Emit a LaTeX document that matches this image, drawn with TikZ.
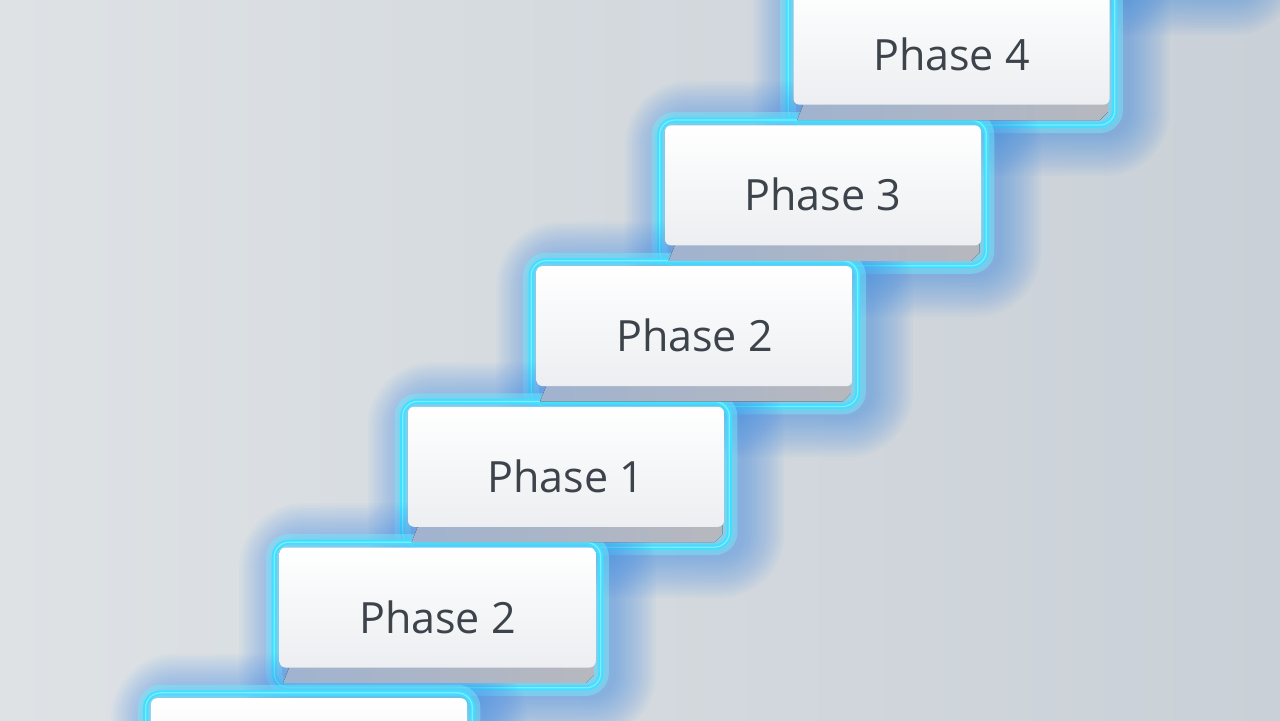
\documentclass[tikz,border=0pt]{standalone}
\usepackage{fontspec}
\newfontfamily\phasefont{Open Sans}
\usepackage{tikz}
\usetikzlibrary{positioning,
                calc,
                backgrounds}
\definecolor{bglight}{HTML}{DEE2E5}
\definecolor{bgdark}{HTML}{C9D0D7}
\definecolor{hazeblue}{HTML}{3C8CF0}
\definecolor{glowcyan}{HTML}{6FEFFF}
\definecolor{corecyan}{HTML}{3FE0FF}
\definecolor{facebot}{HTML}{ECEEF1}
\definecolor{bevelleft}{HTML}{A0B3CF}
\definecolor{bevelright}{HTML}{B7B8BE}
\definecolor{phasetext}{HTML}{3D434A}
\tikzset{stairface/.style = {rectangle,
                     rounded corners=0.12cm,
                     minimum width=6.32cm,
                     minimum height=2.4cm,
                     top color=white,
                     bottom color=facebot,
                     text=phasetext,
                     font=\phasefont\fontsize{24.5}{29}\selectfont,
                     text height=1.02cm,
                     text depth=0pt
                    },
         stairnext/.style = {
                     below=0.4cm of #1,
                     xshift=-2.57cm
         },
         glowline/.style = {
                     rounded corners=0.3cm
         }
        }
\newcommand{\stage}[1]{Phase #1}

\begin{document}
\begin{tikzpicture}
        \useasboundingbox (0,0) rectangle (25.6,14.4);
        \clip (0,0) rectangle (25.6,14.4);

        \node[stairface] (ph5) at (21.6,16.32) {};
        \node[stairface,stairnext=ph5] (ph4) {\stage{4}};
        \node[stairface,stairnext=ph4] (ph3) {\stage{3}};
        \node[stairface,stairnext=ph3] (ph2) {\stage{2}};
        \node[stairface,stairnext=ph2] (ph1) {\stage{1}};
        \node[stairface,stairnext=ph1] (ph2b) {\stage{2}};
        \node[stairface,stairnext=ph2b,yshift=-0.2cm] (ph0) {};

        \begin{scope}[on background layer]
            \clip (0,0) rectangle (25.6,14.4);
            \fill[left color=bglight,right color=bgdark] (0,0) rectangle (25.6,14.4);

            % glow round each step
            \foreach \n in {ph5,ph4,ph3,ph2,ph1,ph2b,ph0}{
                \coordinate (gnw) at ($(\n.north west)+(-0.1,0.1)$);
                \coordinate (gse) at ($(\n.south east)+(0.1,-0.4)$);
                \foreach \w in {0.2,0.3,...,1.9}
                    \draw[hazeblue,opacity=0.035,line width=\w cm,rounded corners=0.4cm]
                        ($(gnw)+(0.2,-0.12)$) rectangle ($(gse)+(0.2,-0.12)$);
                \draw[glowline,glowcyan,opacity=0.45,line width=0.32cm] (gnw) rectangle (gse);
                \draw[glowline,corecyan,line width=0.1cm] (gnw) rectangle (gse);
                \draw[glowline,white,opacity=0.35,line width=0.025cm] (gnw) rectangle (gse);
            }

            % lower edge of each step
            \foreach \n in {ph5,ph4,ph3,ph2,ph1,ph2b,ph0}
                \fill[left color=bevelleft,right color=bevelright]
                    ([xshift=0.2cm,yshift=0.12cm]\n.south west)
                    -- ([xshift=-0.04cm,yshift=0.12cm]\n.south east)
                    -- ([xshift=-0.04cm,yshift=-0.14cm]\n.south east)
                    -- ([xshift=-0.2cm,yshift=-0.3cm]\n.south east)
                    -- ([xshift=0.08cm,yshift=-0.3cm]\n.south west)
                    -- ([xshift=0.2cm]\n.south west) -- cycle;
        \end{scope}
\end{tikzpicture}
\end{document}
